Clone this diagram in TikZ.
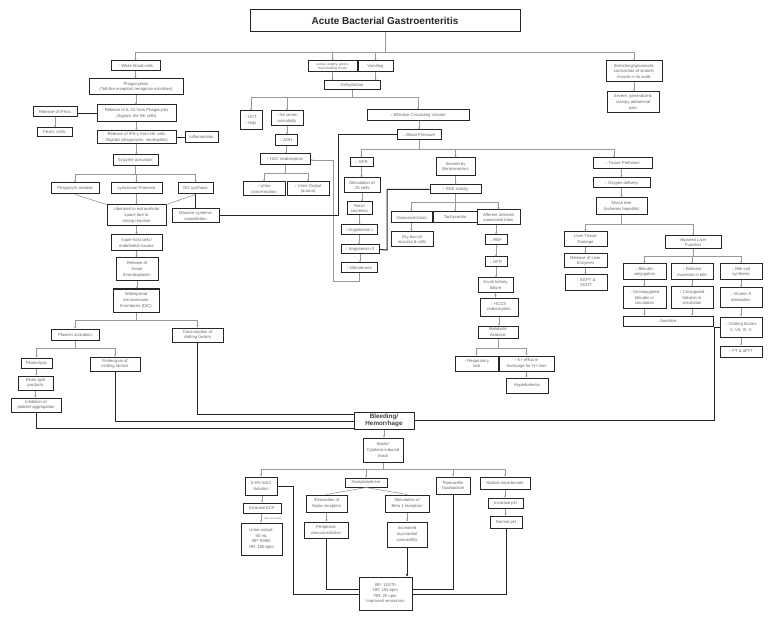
\documentclass[tikz,border=0pt]{standalone}
\usepackage{fontspec}
\setmainfont{Liberation Sans}
\usetikzlibrary{arrows.meta}
\newcommand\mybx[7][]{\node[box,minimum width={#5-#3},minimum height={#6-#4},#1] (#2) at ({(#3+#5)/2},{(#4+#6)/2}) {#7};}
\begin{document}
\begin{tikzpicture}[x=1pt,y=-1pt,
  box/.style={draw=black!85,line width=1pt,fill=white,align=center,inner sep=0.5pt,
    text=black!60,font=\fontsize{4.2}{5.6}\selectfont},
  tree/.style={draw=black!40,line width=0.6pt},
  arr/.style={tree,-{Stealth[length=2pt,width=2pt]}},
  link/.style={draw=black!85,line width=1pt},
  larr/.style={link,-{Stealth[length=2.5pt,width=2.5pt]}}]
\useasboundingbox[fill=white] (0,0) rectangle (768,620);
% ---------- nodes ----------
\mybx[font=\fontsize{10}{12}\selectfont\bfseries,text=black!85]{title}{250}{10}{520}{32}{Acute Bacterial Gastroenteritis}
\mybx{wbc}{111}{61}{160}{71}{↑ White blood cells}
\mybx[font=\fontsize{3.4}{4.2}\selectfont]{stools}{308}{61}{357}{72}{Loose, watery, green,\\foul smelling stools}
\mybx{vomit}{358}{61}{393}{72}{Vomiting}
\mybx{stretch}{606}{61}{662}{82}{Stretching/spasmodic\\contraction of smooth\\muscle in its walls}
\mybx{pain}{607}{92}{659}{113}{Severe, generalized,\\crampy abdominal\\pain}
\mybx{dehyd}{324}{81}{380}{90}{Dehydration}
\mybx{phago}{89}{79}{183}{95}{Phagocytosis\\(Toll-like receptors recognize microbes)}
\mybx{il12}{97}{105}{176}{122}{Release of IL-12 from Phagocytes\\(Signals the NK cells)}
\mybx{ifna}{33}{107}{77}{117}{Release of IFN-α}
\mybx{fever}{37}{128}{72}{137}{Fever, chills}
\mybx{ifng}{97}{131}{176}{144}{Release of IFN-γ from NK cells\\(Signals phagocytes: neutrophils)}
\mybx{inflam}{185}{132}{218}{143}{Inflammation}
\mybx{enzyme}{113}{155}{158}{166}{Enzyme activation}
\mybx{phox}{51}{183}{99}{194}{Phagocyte oxidase}
\mybx{lyso}{111}{183}{162}{194}{Lysosomal Protease}
\mybx{nos}{178}{183}{213}{194}{NO synthase}
\mybx{lib}{107}{205}{166}{226}{Liberated to extracellular\\space due to\\strong reaction}
\mybx{massive}{172}{209}{219}{223}{Massive systemic\\vasodilation}
\mybx{injure}{111}{235}{162}{251}{Injure host cells/\\endothelial trauma}
\mybx{thrombo}{116}{258}{158}{281}{Release of\\tissue\\thromboplastin}
\mybx{dic}{113}{289}{159}{312}{Widespread\\microvascular\\thrombosis (DIC)}
\mybx{plasmin}{51}{329}{99}{340}{Plasmin activation}
\mybx{consump}{172}{328}{223}{342}{Consumption of\\clotting factors}
\mybx{fibrino}{21}{358}{52}{368}{Fibrinolysis}
\mybx{proteo}{90}{357}{140}{371}{Proteolysis of\\clotting factors}
\mybx{fsp}{18}{376}{53}{390}{Fibrin split\\products}
\mybx{inhib}{11}{398}{61}{412}{Inhibition of\\platelet aggregation}
\mybx[font=\fontsize{6.3}{7.6}\selectfont\bfseries,text=black!75]{bleed}{354}{412}{414}{429}{Bleeding/\\Hemorrhage}
\mybx{hct}{240}{111}{262}{130}{\begin{tabular}{@{}l@{}}↑ HCT\\↑ Hgb\end{tabular}}
\mybx{na}{271}{111}{303}{126}{↑ Na serum\\osmolality}
\mybx{ecv}{367}{110}{469}{121}{↓ Effective Circulating Volume}
\mybx{adh}{275}{135}{297}{146}{↑ ADH}
\mybx{bp}{397}{130}{441}{140}{↓ Blood Pressure}
\mybx{h2o}{260}{154}{310}{165}{↑ H2O reabsorption}
\mybx{urconc}{243}{182}{285}{196}{↑ Urine\\concentration}
\mybx{urout}{287}{182}{329}{196}{↓ Urine Output\\(anuria)}
\mybx{gfr}{350}{158}{373}{167}{↓ GFR}
\mybx{baro}{436}{158}{475}{176}{Sensed by\\Baroreceptors}
\mybx{jg}{344}{178}{380}{193}{Stimulation of\\JG cells}
\mybx{sns}{430}{185}{481}{194}{↑ SNS activity}
\mybx{renin}{347}{202}{372}{215}{Renin\\secretion}
\mybx{ang1}{341}{225}{377}{235}{↑ Angiotensin I}
\mybx{ang2}{341}{245}{379}{254}{↑ Angiotensin II}
\mybx{aldo}{341}{263}{377}{273}{↑ Aldosterone}
\mybx{vaso}{391}{212}{432}{223}{Vasoconstriction}
\mybx{tachy}{433}{212}{477}{223}{Tachycardia}
\mybx{aff}{477}{210}{520}{225}{Afferent arteriole\\vasoconstriction}
\mybx{dry}{391}{232}{433}{247}{Dry buccal\\mucosa \& cells}
\mybx{rbf}{485}{235}{507}{245}{↓ RBF}
\mybx{gfrb}{485}{257}{507}{267}{↓ GFR}
\mybx{aki}{478}{278}{513}{292}{Acute kidney\\failure}
\mybx{hco}{480}{298}{518}{316}{↑ HCO3-\\reabsorption}
\mybx{acid}{478}{326}{518}{338}{Metabolic\\Acidosis}
\mybx{resp}{455}{356}{498}{371}{↑ Respiratory\\rate}
\mybx{kef}{499}{356}{554}{371}{↑ K+ efflux in\\exchange for H+ ions}
\mybx{hyperk}{506}{378}{548}{393}{Hyperkalemia}
\mybx{tissue}{593}{158}{652}{169}{↓ Tissue Perfusion}
\mybx{oxy}{593}{178}{650}{188}{↓ Oxygen delivery}
\mybx{shock}{596}{198}{647}{215}{Shock liver\\(ischemic hepatitis)}
\mybx{ltd}{564}{232}{607}{247}{Liver Tissue\\Damage}
\mybx{ilf}{665}{236}{721}{249}{Impaired Liver\\Function}
\mybx{rle}{564}{254}{607}{268}{Release of Liver\\Enzymes}
\mybx{sgpt}{565}{275}{607}{290}{↑ SGPT \&\\SGOT}
\mybx{bconj}{623}{264}{666}{280}{↓ Bilirubin\\conjugation}
\mybx{bexcr}{671}{264}{713}{280}{↓ Bilirubin\\excretion in bile}
\mybx{bile}{720}{264}{762}{280}{↓ Bile salt\\synthesis}
\mybx{uncon}{623}{287}{666}{308}{↑ Unconjugated\\bilirubin in\\circulation}
\mybx{con}{671}{287}{713}{308}{↑ Conjugated\\bilirubin in\\circulation}
\mybx{vitk}{720}{288}{762}{307}{↓ Vitamin K\\absorption}
\mybx{jaund}{623}{316}{713}{326}{Jaundice}
\mybx{clot}{720}{317}{762}{337}{↓ Clotting factors\\II, VII, IX, X}
\mybx{pt}{720}{346}{762}{357}{↑ PT \& aPTT}
\mybx{septic}{363}{438}{403}{462}{Septic/\\Cytokine-induced\\shock}
\mybx{nacl}{245}{477}{277}{495}{0.9\% NaCl\\Solution}
\mybx{norepi}{345}{478}{387}{487}{Norepinephrine}
\mybx{pip}{436}{477}{470}{494}{Piperacillin\\Tazobactam}
\mybx{sodbic}{480}{477}{530}{489}{Sodium bicarbonate}
\mybx{ecf}{243}{503}{281}{513}{Increase ECF}
\mybx{urine}{241}{523}{282}{555}{Urine output:\\50 mL\\BP: 90/60\\HR: 100 bpm}
\mybx{alpha}{306}{495}{347}{512}{Stimulation of\\Alpha receptors}
\mybx{beta}{385}{495}{429}{512}{Stimulation of\\Beta 1 receptors}
\mybx{periph}{304}{522}{348}{538}{Peripheral\\vasoconstriction}
\mybx{myo}{387}{522}{427}{547}{Increased\\myocardial\\contractility}
\mybx{incph}{488}{498}{523}{508}{Increase pH}
\mybx{normph}{490}{516}{522}{528}{Normal pH}
\mybx{final}{359}{577}{412}{610}{BP: 110/70\\HR: 104 bpm\\RR: 20 cpm\\Improved sensorium}
\node[anchor=west,inner sep=0,text=black!55,font=\fontsize{2.4}{3}\selectfont] (after) at (264,519) {after 40 minutes};
% ---------- bus levels ----------
\coordinate (yA) at (0,52);
\coordinate (yB) at (0,97);
\coordinate (yC) at (0,174);
\coordinate (yD) at (0,320);
\coordinate (yE) at (0,348);
\coordinate (yF) at (0,173);
\coordinate (yG) at (0,149);
\coordinate (yH) at (0,202);
\coordinate (yI) at (0,348);
\coordinate (yJ) at (0,224);
\coordinate (yK) at (0,256);
\coordinate (yL) at (0,469);
% ---------- tree connectors ----------
\draw[tree] (title.south) -- (title.south |- yA);
\draw[tree] (wbc.north |- yA) -- (stretch.north |- yA);
\foreach \n in {wbc,stools,vomit,stretch} \draw[arr] (\n.north |- yA) -- (\n.north);
\draw[arr] (stools.south) -- (stools.south |- dehyd.north);
\draw[arr] (vomit.south) -- (vomit.south |- dehyd.north);
\draw[arr] (stretch.south) -- (stretch.south |- pain.north);
\draw[arr] (wbc.south) -- (wbc.south |- phago.north);
\draw[arr] (phago.south) -- (phago.south |- il12.north);
\draw[arr] (il12.south) -- (il12.south |- ifng.north);
\draw[arr] (ifng.south) -- (ifng.south |- enzyme.north);
\draw[link] (il12.west) -- (il12.west -| ifna.east);
\draw[arr] (ifna.south) -- (ifna.south |- fever.north);
\draw[link] (ifng.east) -- (ifng.east -| inflam.west);
\draw[tree] (enzyme.south) -- (enzyme.south |- yC);
\draw[tree] (phox.north |- yC) -- (nos.north |- yC);
\foreach \n in {phox,lyso,nos} \draw[arr] (\n.north |- yC) -- (\n.north);
\draw[tree] (phox.south) -- (lib.north west);
\draw[arr] (lyso.south) -- (lyso.south |- lib.north);
\draw[tree] (nos.south) -- (lib.north east);
\draw[link] (nos.south) -- (nos.south |- massive.north);
\draw[arr] (lib.south) -- (lib.south |- injure.north);
\draw[arr] (injure.south) -- (injure.south |- thrombo.north);
\draw[arr] (thrombo.south) -- (thrombo.south |- dic.north);
\draw[tree] (dic.south) -- (dic.south |- yD);
\draw[tree] (plasmin.north |- yD) -- (consump.north |- yD);
\foreach \n in {plasmin,consump} \draw[arr] (\n.north |- yD) -- (\n.north);
\draw[tree] (plasmin.south) -- (plasmin.south |- yE);
\draw[tree] (fibrino.north |- yE) -- (proteo.north |- yE);
\foreach \n in {fibrino,proteo} \draw[arr] (\n.north |- yE) -- (\n.north);
\draw[arr] (fibrino.south) -- (fibrino.south |- fsp.north);
\draw[arr] (fsp.south) -- (fsp.south |- inhib.north);
% dehydration branch
\draw[tree] (dehyd.south) -- (dehyd.south |- yB);
\draw[tree] (hct.north |- yB) -- (ecv.north |- yB);
\foreach \n in {hct,na,ecv} \draw[arr] (\n.north |- yB) -- (\n.north);
\draw[arr] (na.south) -- (na.south |- adh.north);
\draw[arr] (adh.south) -- (adh.south |- h2o.north);
\draw[tree] (h2o.south) -- (h2o.south |- yF);
\draw[tree] (urconc.north |- yF) -- (urout.north |- yF);
\foreach \n in {urconc,urout} \draw[arr] (\n.north |- yF) -- (\n.north);
\draw[arr] (ecv.south -| bp.north) -- (bp.north);
\draw[tree] (bp.south) -- (bp.south |- yG);
\draw[tree] (gfr.north |- yG) -- (614,149) coordinate (tp);
\foreach \n in {gfr,baro} \draw[arr] (\n.north |- yG) -- (\n.north);
\draw[arr] (tp) -- (tp |- tissue.north);
\draw[arr] (gfr.south) -- (gfr.south |- jg.north);
\draw[arr] (jg.south) -- (jg.south |- renin.north);
\draw[arr] (renin.south) -- (renin.south |- ang1.north);
\draw[arr] (ang1.south) -- (ang1.south |- ang2.north);
\draw[arr] (ang2.south) -- (ang2.south |- aldo.north);
\draw[arr] (baro.south) -- (baro.south |- sns.north);
\draw[tree] (sns.south) -- (sns.south |- yH);
\draw[tree] (vaso.north |- yH) -- (aff.north |- yH);
\foreach \n in {vaso,tachy,aff} \draw[arr] (\n.north |- yH) -- (\n.north);
\draw[arr] (vaso.south) -- (vaso.south |- dry.north);
\draw[arr] (aff.south -| rbf.north) -- (rbf.north);
\draw[arr] (rbf.south) -- (rbf.south |- gfrb.north);
\draw[arr] (gfrb.south) -- (gfrb.south |- aki.north);
\draw[arr] (aki.south) -- (aki.south |- hco.north);
\draw[arr] (hco.south) -- (hco.south |- acid.north);
\draw[tree] (acid.south) -- (acid.south |- yI);
\draw[tree] (resp.north |- yI) -- (kef.north |- yI);
\foreach \n in {resp,kef} \draw[arr] (\n.north |- yI) -- (\n.north);
\draw[arr] (kef.south) -- (kef.south |- hyperk.north);
% liver
\draw[arr] (tissue.south -| oxy.north) -- (oxy.north);
\draw[arr] (oxy.south) -- (oxy.south |- shock.north);
\draw[tree] (shock.south) -- (shock.south |- yJ);
\draw[tree] (ltd.north |- yJ) -- (ilf.north |- yJ);
\foreach \n in {ltd,ilf} \draw[arr] (\n.north |- yJ) -- (\n.north);
\draw[arr] (ltd.south) -- (ltd.south |- rle.north);
\draw[arr] (rle.south) -- (rle.south |- sgpt.north);
\draw[tree] (ilf.south) -- (ilf.south |- yK);
\draw[tree] (bconj.north |- yK) -- (bile.north |- yK);
\foreach \n in {bconj,bexcr,bile} \draw[arr] (\n.north |- yK) -- (\n.north);
\draw[arr] (bconj.south) -- (bconj.south |- uncon.north);
\draw[arr] (bexcr.south) -- (bexcr.south |- con.north);
\draw[arr] (bile.south) -- (bile.south |- vitk.north);
\draw[arr] (uncon.south) -- (uncon.south |- jaund.north);
\draw[arr] (con.south) -- (con.south |- jaund.north);
\draw[arr] (vitk.south) -- (vitk.south |- clot.north);
\draw[arr] (clot.south) -- (clot.south |- pt.north);
% aldosterone loop
\draw[arr] (aldo.south) -- ++(0,8) -| (333,160) -- (h2o.east |- 0,160);
% ---------- long links ----------
\draw[link] (massive.east) -- (338,216) |- (bp.west);
\draw[link] (ang2.east) -- (387,250) |- (sns.west);
\draw[link] (inhib.south) |- (bleed.west |- 0,428);
\draw[link] (proteo.south) |- (bleed.west |- 0,421);
\draw[link] (consump.south) |- (bleed.west |- 0,414);
\draw[link] (clot.west |- 0,327) -- (714,327) |- (bleed.east |- 0,420);
\draw[arr] (bleed.south) -- (bleed.south |- septic.north);
\draw[tree] (septic.south) -- (septic.south |- yL);
\draw[tree] (nacl.north |- yL) -- (sodbic.north |- yL);
\foreach \n in {nacl,norepi,pip,sodbic} \draw[arr] (\n.north |- yL) -- (\n.north);
\draw[arr] (nacl.south -| ecf.north) -- (ecf.north);
\draw[arr] (ecf.south -| nacl.south) -- (urine.north -| nacl.south);
\draw[tree] (norepi.south) -- (alpha.north);
\draw[tree] (norepi.south) -- (beta.north);
\draw[arr] (alpha.south) -- (alpha.south |- periph.north);
\draw[arr] (beta.south) -- (beta.south |- myo.north);
\draw[arr] (sodbic.south) -- (sodbic.south |- incph.north);
\draw[arr] (incph.south) -- (incph.south |- normph.north);
\draw[link] (nacl.east) -- (293,486) |- (final.west |- 0,594);
\draw[link] (periph.south) |- (final.west |- 0,589);
\draw[larr] (myo.south) -- (myo.south |- final.north);
\draw[link] (pip.south) |- (final.east |- 0,589);
\draw[link] (normph.south) |- (final.east |- 0,594);
\end{tikzpicture}
\end{document}
